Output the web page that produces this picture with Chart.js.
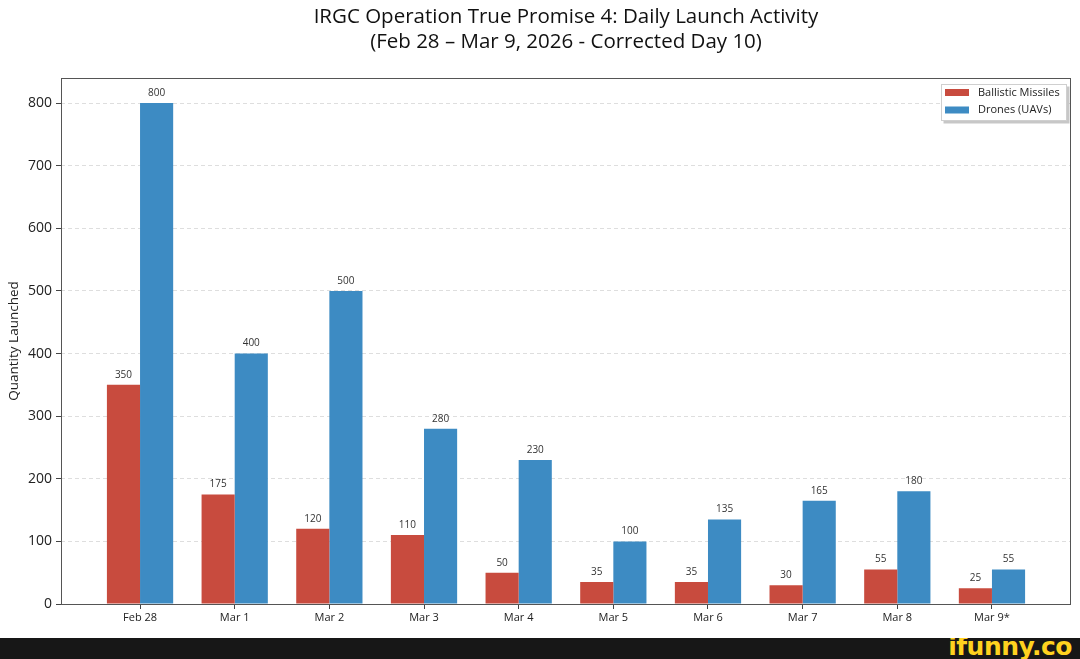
<!DOCTYPE html>
<html><head><meta charset="utf-8">
<script src="https://cdn.jsdelivr.net/npm/chart.js@4.4.1/dist/chart.umd.min.js"></script>
<style>
html,body{margin:0;padding:0;background:#fff;width:1080px;height:659px;overflow:hidden}
#wrap{position:relative;width:1080px;height:638px}
#band{position:relative;width:1080px;height:21px;background:#171717;overflow:hidden}
#band span{position:absolute;right:8px;top:-6px;font:bold 25px "DejaVu Sans",sans-serif;color:#FFD21F;letter-spacing:-0.5px}
</style></head><body>
<div id="wrap"><canvas id="c" width="1080" height="638"></canvas></div>
<div id="band"><span>ifunny.co</span></div>
<script>
const titleLines = ["IRGC Operation True Promise 4: Daily Launch Activity", "(Feb 28 \u2013 Mar 9, 2026 - Corrected Day 10)"];
const categories = ["Feb 28","Mar 1","Mar 2","Mar 3","Mar 4","Mar 5","Mar 6","Mar 7","Mar 8","Mar 9*"];
const missiles = [350,175,120,110,50,35,35,30,55,25];
const drones = [800,400,500,280,230,100,135,165,180,55];
const yTicks = [0,100,200,300,400,500,600,700,800];
const seriesNames = ["Ballistic Missiles","Drones (UAVs)"];
const seriesColors = ["#C84B3E","#3D8BC3"];
const FONT = '"Open Sans", sans-serif';

const framePlugin = {
  id:'frame',
  afterDatasetsDraw(chart){
    const {ctx, chartArea:a} = chart;
    ctx.save();
    ctx.strokeStyle='#555'; ctx.lineWidth=1;
    ctx.strokeRect(a.left+0.5, a.top+0.5, a.right-a.left-1, a.bottom-a.top);
    ctx.restore();
  }
};
const labelPlugin = {
  id:'barLabels',
  afterDatasetsDraw(chart){
    const ctx = chart.ctx;
    ctx.save();
    ctx.font = '10px ' + FONT; ctx.fillStyle='#333'; ctx.textAlign='center'; ctx.textBaseline='middle';
    chart.data.datasets.forEach((ds,di)=>{
      chart.getDatasetMeta(di).data.forEach((bar,i)=>{
        ctx.fillText(String(ds.data[i].y), bar.x, bar.y-10);
      });
    });
    ctx.restore();
  }
};
const titlePlugin = {
  id:'customTitle',
  afterDraw(chart){
    const {ctx, chartArea:a} = chart;
    ctx.save();
    ctx.font = '20.5px ' + FONT; ctx.fillStyle='#111'; ctx.textAlign='center'; ctx.textBaseline='middle';
    const cx = (a.left+a.right)/2;
    ctx.fillText(titleLines[0], cx, 17);
    ctx.fillText(titleLines[1], cx, 42);
    ctx.restore();
  }
};
const legendPlugin = {
  id:'customLegend',
  afterDraw(chart){
    const {ctx, chartArea:a} = chart;
    const w=126, h=37, x=a.right-4-w, y=a.top+6;
    ctx.save();
    ctx.fillStyle='rgba(0,0,0,0.22)';
    ctx.fillRect(x+2.5,y+2.5,w,h);
    ctx.fillStyle='#fff'; ctx.strokeStyle='#cfcfcf'; ctx.lineWidth=1;
    ctx.fillRect(x,y,w,h); ctx.strokeRect(x+0.5,y+0.5,w-1,h-1);
    ctx.font='11px ' + FONT; ctx.textBaseline='middle'; ctx.textAlign='left';
    chart.data.datasets.forEach((ds,i)=>{
      const cy = y + 8.5 + i*17.5;
      ctx.fillStyle = ds.backgroundColor;
      ctx.fillRect(x+4, cy-3.5, 24, 7);
      ctx.fillStyle='#222';
      ctx.fillText(ds.label, x+37, cy);
    });
    ctx.restore();
  }
};

const datasets = [missiles, drones].map((arr,k)=>({
  label: seriesNames[k],
  data: arr.map((v,i)=>({x:i, y:v})),
  backgroundColor: seriesColors[k],
  borderWidth: 0,
  barPercentage: 1.0,
  categoryPercentage: 0.7
}));

new Chart(document.getElementById('c'), {
  type:'bar',
  data:{ datasets },
  plugins:[framePlugin, labelPlugin, titlePlugin, legendPlugin],
  options:{
    responsive:false, animation:false, devicePixelRatio:1,
    layout:{ padding:{ left:0, right:9, top:78, bottom:0 } },
    plugins:{ legend:{display:false}, title:{display:false}, tooltip:{enabled:false} },
    scales:{
      x:{
        type:'linear', min:-0.835, max:9.835, offset:false,
        afterFit(s){ s.height = 34; },
        afterBuildTicks(s){ s.ticks = categories.map((c,i)=>({value:i})); },
        ticks:{ autoSkip:false, maxRotation:0, padding:2, font:{family:FONT,size:11}, color:'#222',
          callback:(v)=>categories[v] },
        grid:{ drawOnChartArea:false, drawTicks:true, tickLength:5, tickColor:'#444', offset:false },
        border:{ display:false }
      },
      y:{
        min:0, max:840,
        afterFit(s){ s.width = 61; },
        afterBuildTicks(s){ s.ticks = yTicks.map(v=>({value:v})); },
        ticks:{ padding:4, font:{family:FONT,size:14}, color:'#222' },
        grid:{ color:'#dedede', tickColor:'#444', tickLength:5, tickBorderDash:[] },
        border:{ display:false, dash:[4,3] },
        title:{ display:true, text:'Quantity Launched', font:{family:FONT,size:13.5}, color:'#222', padding:{top:6,bottom:0} }
      }
    }
  }
});
</script>
</body></html>
